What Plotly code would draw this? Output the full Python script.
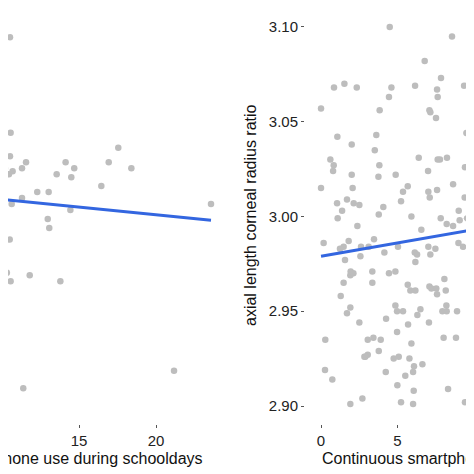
import plotly.graph_objects as go

# Left panel (partially visible)
left_x = [10.52,9.94,10.56,17.55,10.52,16.93,11.56,14.13,10.19,11.30,14.69,18.40,10.69,10.45,13.55,14.50,16.45,12.29,13.03,11.30,10.63,23.57,9.94,14.44,12.97,13.07,10.02,10.50,10.32,11.80,10.56,13.79,21.17,11.38]
left_y = [3.0946,3.0474,3.0442,3.0363,3.0318,3.0286,3.0286,3.0286,3.0254,3.0254,3.0254,3.0254,3.0238,3.0223,3.0223,3.0207,3.0161,3.0129,3.0129,3.0098,3.0066,3.0066,3.0034,3.0034,2.9987,2.9939,2.9908,2.9878,2.9703,2.9690,2.9658,2.9658,2.9186,2.9094]
left_fit_x = [9.0, 23.57]
left_fit_y = [3.0098, 2.998]

right_pts = [(4.50,3.100),(8.58,3.095),(6.79,3.082),(7.86,3.073),(0.85,3.068),(1.53,3.070),(2.34,3.068),(4.61,3.068),(6.16,3.069),(9.37,3.069),(4.45,3.063),(0.00,3.057),(7.60,3.067),(7.64,3.063),(7.10,3.056),(7.16,3.055),(3.84,3.056),(7.53,3.052),(3.62,3.043),(9.52,3.044),(1.07,3.042),(2.01,3.038),(3.52,3.035),(0.61,3.030),(0.83,3.027),(0.79,3.024),(3.82,3.027),(8.25,3.031),(7.64,3.030),(7.79,3.030),(6.40,3.031),(9.43,3.026),(7.01,3.024),(4.89,3.022),(3.76,3.021),(2.01,3.022),(9.87,3.022),(8.65,3.017),(0.00,3.015),(2.07,3.015),(5.68,3.016),(5.37,3.013),(7.03,3.013),(7.60,3.014),(7.12,3.010),(1.05,3.007),(1.70,3.009),(2.14,3.007),(2.51,3.006),(4.08,3.005),(1.38,3.003),(5.24,3.008),(5.92,3.000),(7.84,2.999),(9.02,3.003),(9.41,3.010),(9.56,2.999),(1.09,2.999),(3.78,3.001),(2.38,2.995),(6.57,2.993),(9.08,2.998),(8.65,2.995),(8.23,2.996),(0.17,2.986),(1.81,2.987),(1.48,2.984),(1.24,2.983),(2.62,2.984),(3.12,2.984),(3.47,2.988),(5.04,2.984),(6.14,2.981),(7.03,2.984),(7.49,2.983),(9.00,2.986),(9.30,2.984),(4.15,2.981),(2.58,2.979),(1.57,2.977),(6.29,2.980),(7.16,2.980),(6.18,2.976),(4.45,2.970),(4.87,2.971),(1.94,2.971),(3.36,2.971),(8.08,2.967),(9.87,2.970),(9.74,2.969),(1.92,2.969),(2.12,2.970),(1.48,2.965),(3.36,2.965),(5.68,2.964),(5.85,2.961),(6.18,2.961),(7.10,2.963),(7.23,2.962),(7.60,2.959),(8.17,2.961),(7.55,2.962),(1.29,2.958),(4.87,2.953),(4.98,2.950),(1.70,2.949),(1.92,2.952),(8.21,2.953),(8.23,2.950),(5.37,2.950),(2.51,2.944),(4.26,2.946),(6.31,2.948),(6.51,2.951),(5.70,2.943),(7.07,2.944),(7.95,2.950),(8.91,2.950),(4.98,2.939),(0.28,2.935),(3.06,2.935),(3.43,2.936),(3.91,2.935),(5.92,2.933),(8.03,2.936),(8.84,2.936),(2.84,2.926),(3.06,2.927),(3.78,2.929),(2.90,2.926),(4.76,2.925),(5.09,2.926),(5.79,2.925),(6.64,2.922),(0.26,2.919),(4.24,2.918),(6.03,2.918),(6.09,2.921),(5.52,2.916),(0.74,2.914),(5.00,2.911),(6.07,2.908),(8.32,2.909),(2.71,2.904),(1.92,2.901),(5.24,2.902),(6.03,2.901),(9.43,2.902)]
right_x = [p[0] for p in right_pts]
right_y = [p[1] for p in right_pts]
right_fit_x = [0, 11]
right_fit_y = [2.979, 2.9944]

y_ticks = [2.90, 2.95, 3.00, 3.05, 3.10]
y_labels = ["2.90", "2.95", "3.00", "3.05", "3.10"]

W = 466
PT = "#BDBDBD"
LN = "#3366E0"
fig = go.Figure()
fig.add_trace(go.Scatter(x=left_x, y=left_y, mode="markers", marker=dict(size=6.5, color=PT), xaxis="x", yaxis="y"))
fig.add_trace(go.Scatter(x=left_fit_x, y=left_fit_y, mode="lines", line=dict(color=LN, width=3), xaxis="x", yaxis="y"))
fig.add_trace(go.Scatter(x=right_x, y=right_y, mode="markers", marker=dict(size=6.5, color=PT), xaxis="x2", yaxis="y2"))
fig.add_trace(go.Scatter(x=right_fit_x, y=right_fit_y, mode="lines", line=dict(color=LN, width=3), xaxis="x2", yaxis="y2"))

tickfont = dict(family="Liberation Sans", size=15, color="#222")
common_x = dict(showgrid=False, zeroline=False, ticks="outside", ticklen=3, tickcolor="#555", tickfont=tickfont, showline=False)
titlefont = dict(family="Liberation Sans", size=16, color="#111")
fig.update_layout(
    width=W, height=W, margin=dict(l=0, r=0, t=0, b=0),
    paper_bgcolor="white", plot_bgcolor="white", showlegend=False,
    xaxis=dict(domain=[0, 217/W], range=[10.39, 24.48], tickvals=[10, 15, 20], **common_x),
    yaxis=dict(domain=[50/W, 1], range=[2.8905, 3.110], showticklabels=False, showgrid=False, zeroline=False, anchor="x"),
    xaxis2=dict(domain=[297/W, 1], range=[-1.05, 10.02], tickvals=[0, 5, 10], anchor="y2", **common_x),
    yaxis2=dict(domain=[50/W, 1], range=[2.8905, 3.110], tickvals=y_ticks, ticktext=y_labels, anchor="x2",
                showgrid=False, zeroline=False, ticks="outside", ticklen=3, tickcolor="#555", tickfont=tickfont),
    annotations=[
        dict(text="Continuous smartphone use during schooldays", xref="paper", yref="paper", x=197/W, y=(W-450)/W,
             xanchor="right", yanchor="middle", showarrow=False, font=titlefont),
        dict(text="Continuous smartphone use during weekends", xref="paper", yref="paper", x=312/W, y=(W-450)/W,
             xanchor="left", yanchor="middle", showarrow=False, font=titlefont),
        dict(text="axial length corneal radius ratio", xref="paper", yref="paper", x=242/W, y=(W-207)/W,
             textangle=-90, showarrow=False, font=titlefont),
    ],
)
fig.write_html("out.html")
